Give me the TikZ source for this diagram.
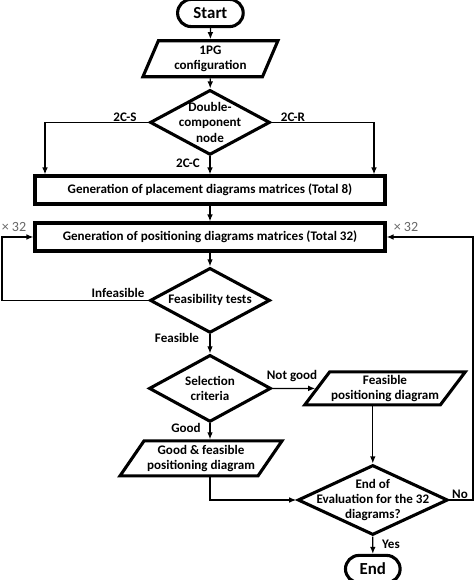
\documentclass[tikz,border=0pt]{standalone}
\usepackage{fontspec}
\setmainfont{Carlito}
\usetikzlibrary{shapes.geometric, shapes.misc, arrows.meta}

\tikzset{
	term/.style = {rounded rectangle, draw, line width = 2.2pt, minimum height = 0.68cm, font = \fontsize{12}{13}\selectfont\bfseries},
	proc/.style = {rectangle, draw, line width = 2.2pt, minimum width = 8.75cm, minimum height = 0.7cm},
	io/.style = {trapezium, trapezium stretches body, draw, line width = 2.2pt, align = center, inner sep = 1pt},
	decision/.style = {diamond, draw, line width = 2.2pt, inner sep = 0pt},
	lbl/.style = {inner sep = 1pt},
	times/.style = {inner sep = 1pt, text = black!60, font = \fontsize{10}{12}\selectfont}
}

\begin{document}
\begin{tikzpicture}[font = \fontsize{9.3}{11}\selectfont\bfseries, line width = 0.9pt, > = {Latex[length = 5pt, width = 4pt]}]
	\useasboundingbox (0, 0) rectangle (11.85, 14.5);
	
	\node[term, minimum width = 1.875cm] (start) at (5.26, 14.175) {Start};
	\node[io, trapezium left angle = 62, trapezium right angle = 118, minimum width = 3.375cm, minimum height = 0.9cm] (cfg) at (5.26, 13.03) {1PG\\configuration};
	\node[decision, minimum width = 3cm, minimum height = 1.625cm, label = {[align = center]center:Double-\\component\\node}] (dcn) at (5.25, 11.44) {};
	\node[proc] (place) at (5.25, 9.75) {Generation of placement diagrams matrices (Total 8)};
	\node[proc] (pos) at (5.25, 8.575) {Generation of positioning diagrams matrices (Total 32)};
	\node[decision, minimum width = 3cm, minimum height = 1.625cm, label = center:Feasibility tests] (feas) at (5.25, 6.99) {};
	\node[decision, minimum width = 3.05cm, minimum height = 1.675cm, label = {[align = center]center:Selection\\criteria}] (sel) at (5.25, 4.79) {};
	\node[io, trapezium left angle = 51, trapezium right angle = 129, minimum width = 4.05cm, minimum height = 0.875cm] (goodpd) at (5.025, 3.04) {Good \& feasible\\positioning diagram};
	\node[io, trapezium left angle = 50, trapezium right angle = 130, minimum width = 4cm, minimum height = 0.825cm] (feaspd) at (9.625, 4.79) {Feasible\\positioning diagram};
	\node[decision, minimum width = 3.75cm, minimum height = 1.75cm, label = {[align = center]center:End of\\Evaluation for the 32\\diagrams?}] (eval) at (9.32, 2.0) {};
	\node[term, minimum width = 1.6cm] (end) at (9.32, 0.275) {End};
	
	\coordinate (sL) at (1.125, 11.44);
	\coordinate (sR) at (9.35, 11.44);
	\coordinate (lp) at (0.05, 6.99);
	\coordinate (rp) at (11.825, 2.0);
	
	\draw[->] (start) -- (cfg);
	\draw[->] (cfg) -- (dcn);
	\draw[->] (dcn.west) -- (sL) -- (sL |- place.north);
	\draw[->] (dcn.east) -- (sR) -- (sR |- place.north);
	\draw[->] (dcn) -- (place);
	\draw[->] (place) -- (pos);
	\draw[->] (pos) -- (feas);
	\draw[->] (feas.west) -- (lp) |- (pos.west);
	\draw[->] (feas) -- (sel);
	\draw[->] (sel) -- (feaspd);
	\draw[->] (sel.south) -- (sel.south |- goodpd.north);
	\draw[->] (goodpd.south -| sel.south) |- (eval.west);
	\draw[->] (eval.north |- feaspd.south) -- (eval.north);
	\draw[->] (eval.east) -- (rp) |- (pos.east);
	\draw[->] (eval) -- (end);
	
	\node[lbl] (lS) at (3.125, 11.575) {2C-S};
	\node[lbl] (lR) at (7.325, 11.575) {2C-R};
	\node[lbl] (lC) at (4.7, 10.425) {2C-C};
	\node[lbl] (lInf) at (2.95, 7.175) {Infeasible};
	\node[lbl] (lFea) at (4.425, 6.05) {Feasible};
	\node[lbl] (lNg) at (7.3, 5.1) {Not good};
	\node[lbl] (lGood) at (4.65, 3.8) {Good};
	\node[lbl] (lNo) at (11.5, 2.15) {No};
	\node[lbl] (lYes) at (9.775, 0.9) {Yes};
	\node[times] (xL) at (0.35, 8.825) {× 32};
	\node[times] (xR) at (10.15, 8.825) {× 32};
\end{tikzpicture}
\end{document}
